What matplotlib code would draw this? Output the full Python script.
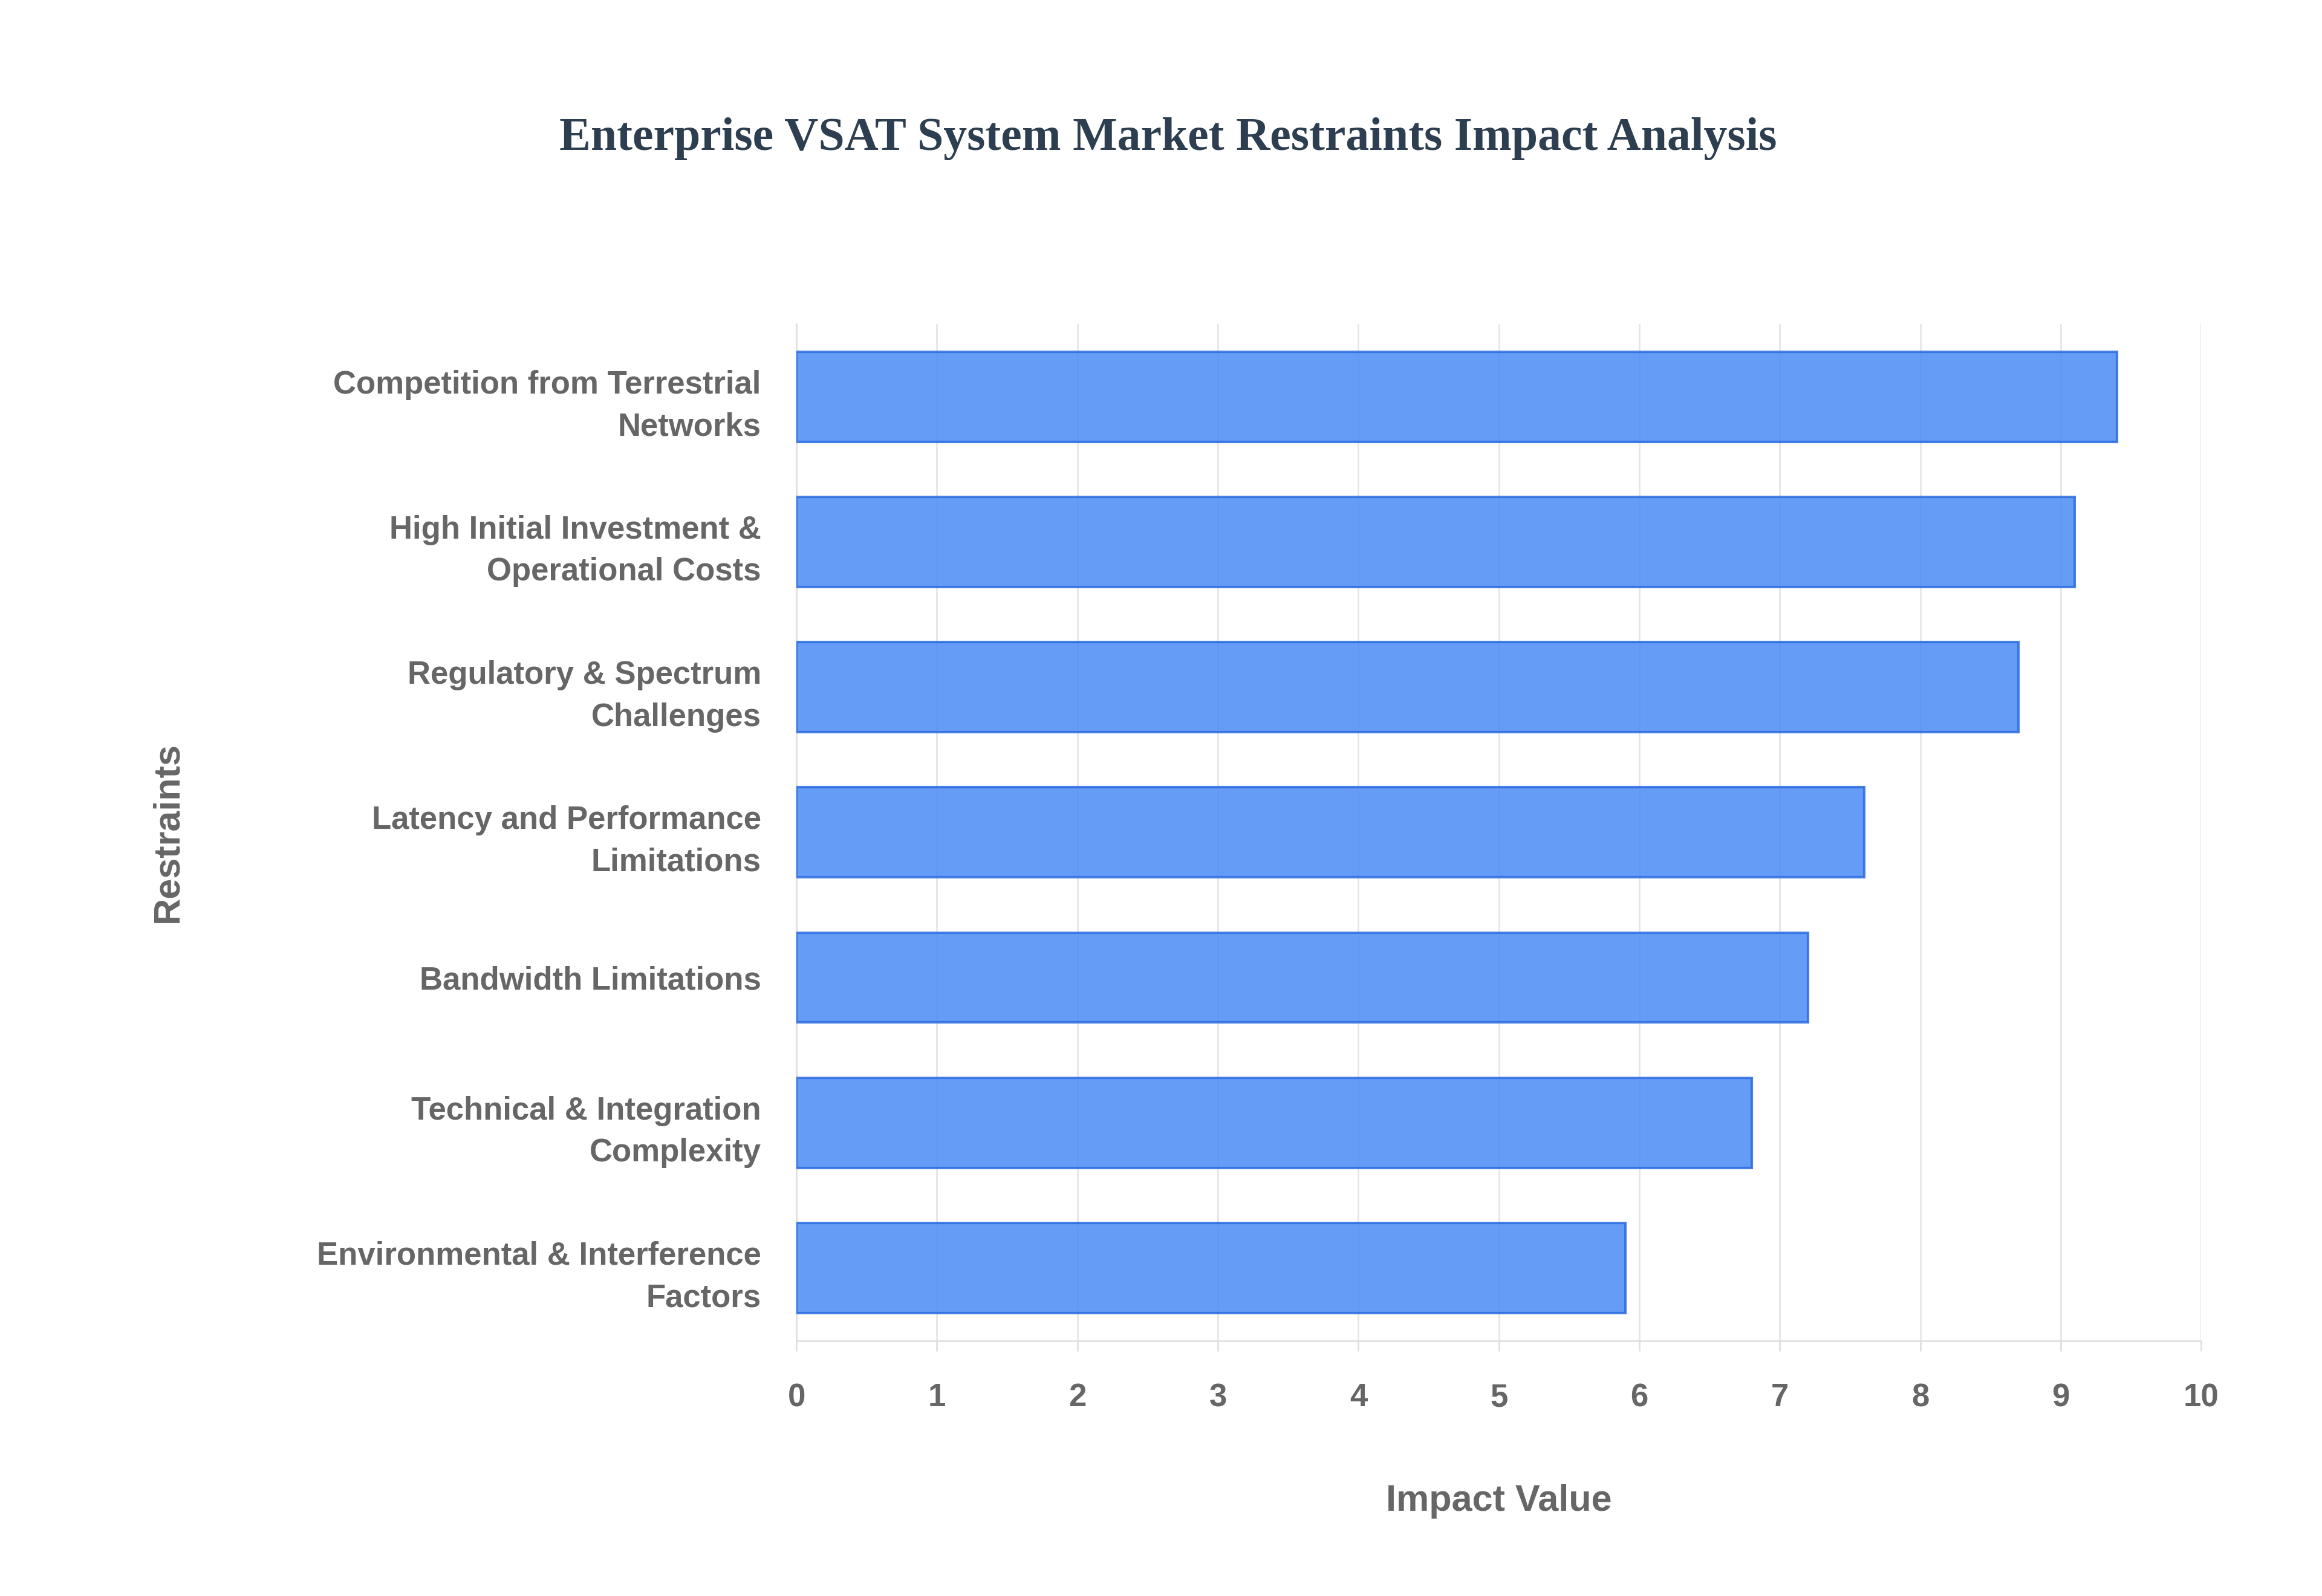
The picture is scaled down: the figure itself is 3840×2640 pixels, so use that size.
import matplotlib
matplotlib.use("Agg")
import matplotlib.pyplot as plt

categories = ["Competition from Terrestrial\nNetworks",
              "High Initial Investment &\nOperational Costs",
              "Regulatory & Spectrum\nChallenges",
              "Latency and Performance\nLimitations",
              "Bandwidth Limitations",
              "Technical & Integration\nComplexity",
              "Environmental & Interference\nFactors"]
values = [9.4, 9.1, 8.7, 7.6, 7.2, 6.8, 5.9]
xticks = list(range(0, 11))

fig = plt.figure(figsize=(38.4, 26.4), dpi=100)
ax = fig.add_axes([0.343, 0.160, 0.605, 0.637])
y = list(range(len(categories)))[::-1]
ax.barh(y, values, height=0.62, color="#4f8ef5", alpha=0.88,
        edgecolor="#2f6fe0", linewidth=3, zorder=3)
ax.set_xlim(0, 10)
ax.set_ylim(-0.5, 6.5)
ax.set_xticks(xticks)
ax.set_yticks(y)
ax.set_yticklabels(categories, linespacing=1.5)
ax.grid(axis="x", color="#e6e6e6", linewidth=2, zorder=0)
for s in ["top", "right"]:
    ax.spines[s].set_visible(False)
for s in ["left", "bottom"]:
    ax.spines[s].set_color("#e0e0e0")
    ax.spines[s].set_linewidth(2)
ax.tick_params(axis="y", length=0, pad=42)
ax.tick_params(axis="x", length=12, width=2, color="#e0e0e0", pad=38)
for lab in ax.get_xticklabels() + ax.get_yticklabels():
    lab.set_fontfamily("Liberation Sans")
    lab.set_fontweight("bold")
    lab.set_color("#666666")
    lab.set_fontsize(38)
ax.set_xlabel("Impact Value", fontsize=44, fontweight="bold", color="#666666",
              family="Liberation Sans", labelpad=85)
ax.set_ylabel("Restraints", fontsize=44, fontweight="bold", color="#666666",
              family="Liberation Sans")
ax.yaxis.set_label_coords(-0.435, 0.5)
fig.text(0.503, 0.913, "Enterprise VSAT System Market Restraints Impact Analysis",
         ha="center", va="center", fontsize=56, fontweight="bold",
         color="#2c3e50", family="Liberation Serif")
fig.savefig("out.png", dpi=100, facecolor="white")
